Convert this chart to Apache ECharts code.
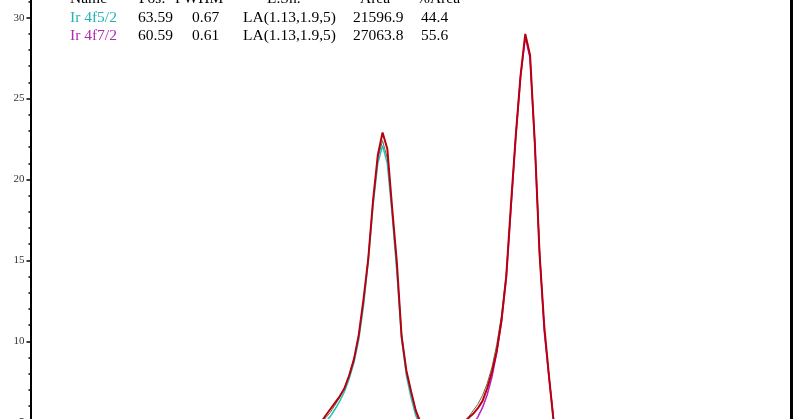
<!DOCTYPE html>
<html>
<head>
<meta charset="utf-8">
<script src="https://cdn.jsdelivr.net/npm/echarts@6/dist/echarts.min.js"></script>
<style>
html,body{margin:0;padding:0;background:#fff;}
#c{width:798px;height:419px;}
</style>
</head>
<body>
<div id="c"></div>
<script>
// Binding energy grid (eV), descending
var energies = [65.5,65.4,65.3,65.2,65.1,65.0,64.9,64.8,64.7,64.6,
  64.5,64.4,64.3,64.2,64.1,64.0,63.9,63.8,63.7,63.6,
  63.5,63.4,63.3,63.2,63.1,63.0,62.9,62.8,62.7,62.6,
  62.5,62.4,62.3,62.2,62.1,62.0,61.9,61.8,61.7,61.6,
  61.5,61.4,61.3,61.2,61.1,61.0,60.9,60.8,60.7,60.6,
  60.5,60.4,60.3,60.2,60.1,60.0,59.9,59.8,59.7,59.6,59.5];

// Measured spectrum (counts, x10^3)
var dataCounts = [3.9,4.0,4.2,4.4,4.6,4.8,4.95,5.4,5.8,6.2,
  6.6,7.1,7.9,8.9,10.4,12.6,15.1,18.7,21.5,22.9,
  21.9,18.3,14.9,10.3,8.2,6.9,5.7,4.9,4.4,4.1,
  3.9,3.8,3.8,3.9,4.1,4.5,4.9,5.25,5.5,5.85,
  6.3,7.1,8.1,9.4,11.3,14.0,18.5,22.7,26.4,29.0,
  27.7,22.3,15.4,10.9,7.8,4.9,4.0,3.6,3.3,3.1,3.0];

// Ir 4f5/2 component
var ir4f52 = [3.6,3.7,3.9,4.1,4.3,4.5,4.7,5.0,5.35,5.8,
  6.3,6.9,7.7,8.7,10.1,12.2,15.0,18.4,21.0,22.1,
  21.0,17.9,14.3,10.2,7.9,6.5,5.4,4.7,4.2,3.9,
  3.7,3.6,3.5,3.45,3.4,3.35,3.3,3.3,3.25,3.25,
  3.2,3.2,3.2,3.15,3.15,3.1,3.1,3.1,3.1,3.1,
  3.1,3.05,3.05,3.05,3.05,3.05,3.0,3.0,3.0,3.0,3.0];

// Ir 4f7/2 component
var ir4f72 = [3.6,3.6,3.6,3.6,3.6,3.6,3.6,3.6,3.6,3.6,
  3.6,3.6,3.6,3.6,3.6,3.6,3.6,3.6,3.6,3.6,
  3.6,3.6,3.6,3.6,3.6,3.6,3.6,3.6,3.65,3.65,
  3.7,3.7,3.75,3.85,3.95,4.05,4.25,4.5,4.9,5.3,
  5.9,6.7,7.8,9.3,11.2,13.9,18.2,22.6,26.3,28.8,
  27.5,22.2,15.5,10.6,7.7,5.0,4.0,3.5,3.25,3.1,3.0];

// Fit envelope
var envelope = [3.9,4.0,4.2,4.4,4.6,4.75,4.95,5.25,5.6,6.05,
  6.55,7.15,7.95,8.95,10.35,12.45,15.25,18.65,21.3,22.4,
  21.3,18.2,14.6,10.5,8.2,6.8,5.75,5.1,4.65,4.4,
  4.25,4.2,4.2,4.3,4.45,4.7,5.0,5.3,5.7,6.1,
  6.65,7.4,8.4,9.8,11.6,14.2,18.4,22.8,26.4,28.9,
  27.6,22.3,15.6,10.75,7.85,5.15,4.15,3.6,3.3,3.15,3.05];

// Fit table
var tableHeader = ["Name","Pos.","FWHM","L.Sh.","Area","%Area"];
var compNames = ["Ir 4f5/2","Ir 4f7/2"];
var compPos = ["63.59","60.59"];
var compFwhm = ["0.67","0.61"];
var compShape = ["LA(1.13,1.9,5)","LA(1.13,1.9,5)"];
var compArea = ["21596.9","27063.8"];
var compPct = ["44.4","55.6"];

function pairs(vals){ return energies.map(function(e,i){ return [e, vals[i]]; }); }

var chart = echarts.init(document.getElementById('c'), null, {renderer:'canvas'});
var FONT = '"Times New Roman","Liberation Serif",serif';
var nameColors = ['#22b4b4','#b02ab0'];
var colX = [70,139,175,267,360,417];
var valX = [70,138,192,243,353,421];
var rowY = [17.5,35.8];

var graphics = [];
tableHeader.forEach(function(t,i){
  graphics.push({type:'text', x:colX[i], y:-0.8, z:100,
    style:{text:t, font:'15.5px '+FONT, fill:'#000', verticalAlign:'middle', align:'left'}});
});
for (var r=0;r<2;r++){
  var cells=[compNames[r],compPos[r],compFwhm[r],compShape[r],compArea[r],compPct[r]];
  cells.forEach(function(t,i){
    graphics.push({type:'text', x:valX[i], y:rowY[r], z:100,
      style:{text:t, font:'15.5px '+FONT, fill:i===0?nameColors[r]:'#000', verticalAlign:'middle', align:'left'}});
  });
}

chart.setOption({
  animation:false,
  backgroundColor:'#fff',
  grid:{left:30.5, right:6.3, top:-63.2, bottom:-84.1, containLabel:false, outerBoundsMode:'none'},
  xAxis:{type:'value', min:55, max:71, inverse:true, show:false},
  yAxis:[{
    type:'value', min:0, max:35, interval:5, position:'left',
    axisLine:{show:true, lineStyle:{color:'#000', width:2}},
    axisTick:{show:true, length:4, lineStyle:{color:'#000', width:1.5}},
    minorTick:{show:true, splitNumber:5, length:2, lineStyle:{color:'#000', width:1.5}},
    axisLabel:{show:true, fontFamily:FONT, fontSize:11, color:'#333', margin:6},
    splitLine:{show:false}
  },{
    type:'value', min:0, max:35, position:'right',
    axisLine:{show:true, lineStyle:{color:'#000', width:3}},
    axisTick:{show:false}, axisLabel:{show:false}, splitLine:{show:false}
  }],
  graphic:graphics,
  series:[
    {name:'Envelope', type:'line', data:pairs(envelope), showSymbol:false, symbol:'none',
      lineStyle:{color:'#6e6a3a', width:1}, z:2},
    {name:'Ir 4f5/2', type:'line', data:pairs(ir4f52), showSymbol:false, symbol:'none',
      lineStyle:{color:'#24c0c0', width:1.5}, z:3},
    {name:'Ir 4f7/2', type:'line', data:pairs(ir4f72), showSymbol:false, symbol:'none',
      lineStyle:{color:'#c020c0', width:1.5}, z:3},
    {name:'Data', type:'line', data:pairs(dataCounts), showSymbol:false, symbol:'none',
      lineStyle:{color:'#b8000e', width:2}, z:4}
  ]
});
</script>
</body>
</html>
